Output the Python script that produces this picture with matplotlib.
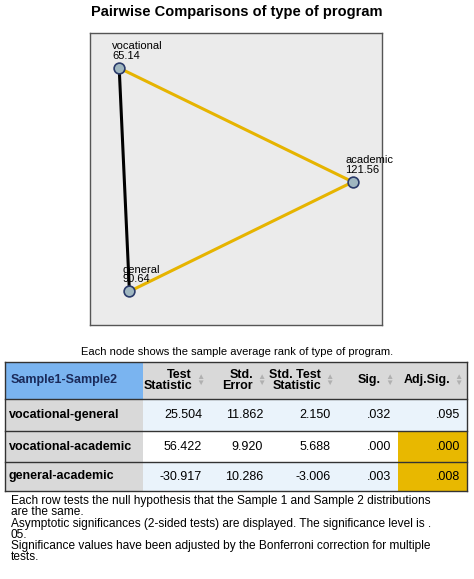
import matplotlib.pyplot as plt
from matplotlib.patches import Rectangle

# node data
nodes = ["vocational", "academic", "general"]
mean_ranks = [65.14, 121.56, 90.64]
node_x = [0.10, 0.90, 0.135]   # layout position inside the graph box
node_y = [0.88, 0.49, 0.115]
# edges: (from, to, significant)
edges = [("vocational", "general", False), ("vocational", "academic", True), ("general", "academic", True)]

# table data
col_labels = ["Sample1-Sample2", "Test\nStatistic", "Std.\nError", "Std. Test\nStatistic", "Sig.", "Adj.Sig."]
row_labels = ["vocational-general", "vocational-academic", "general-academic"]
test_stat = ["25.504", "56.422", "-30.917"]
std_err = ["11.862", "9.920", "10.286"]
std_test = ["2.150", "5.688", "-3.006"]
sig = [".032", ".000", ".003"]
adj_sig = [".095", ".000", ".008"]
adj_sig_highlight = [False, True, True]

W, H = 474, 579
fig = plt.figure(figsize=(W / 100, H / 100), dpi=100)
plt.rcParams['font.family'] = ['Liberation Sans', 'DejaVu Sans']

ax = fig.add_axes([0, 0, 1, 1])
ax.set_xlim(0, W)
ax.set_ylim(H, 0)
ax.axis('off')

ax.text(237, 12, "Pairwise Comparisons of type of program", ha='center', va='center',
        fontsize=10.5, fontweight='bold')

# graph box
gx0, gy0, gw, gh = 90, 33, 292, 292
gax = fig.add_axes([gx0 / W, 1 - (gy0 + gh) / H, gw / W, gh / H])
gax.set_facecolor('#ebebeb')
gax.set_xlim(0, 1)
gax.set_ylim(0, 1)
gax.set_xticks([])
gax.set_yticks([])
for s in gax.spines.values():
    s.set_color('#555555')
    s.set_linewidth(1)

pos = {n: (x, y) for n, x, y in zip(nodes, node_x, node_y)}
for a, b, sig_edge in edges:
    (x1, y1), (x2, y2) = pos[a], pos[b]
    gax.plot([x1, x2], [y1, y2], color='#e6b400' if sig_edge else 'black', lw=2.2, zorder=2)
gax.scatter(node_x, node_y, s=60, facecolor='#9fb6c0', edgecolor='#2a3a6a', lw=1.2, zorder=3)
for n, x, y, r in zip(nodes, node_x, node_y, mean_ranks):
    gax.text(x - 0.025, y + 0.025, f"{n}\n{r:.2f}", fontsize=8, ha='left', va='bottom',
             linespacing=0.95, zorder=4)

ax.text(237, 352, "Each node shows the sample average rank of type of program.",
        ha='center', va='center', fontsize=8)

# table
col_edges = [5, 143, 209, 270, 338, 398, 467]
row_edges = [362, 399, 431, 462, 491]
ax.add_patch(Rectangle((col_edges[0], row_edges[0]), col_edges[1] - col_edges[0],
                       row_edges[1] - row_edges[0], facecolor='#7ab4f0', edgecolor='none'))
ax.add_patch(Rectangle((col_edges[1], row_edges[0]), col_edges[-1] - col_edges[1],
                       row_edges[1] - row_edges[0], facecolor='#d9d9d9', edgecolor='none'))
ax.text(11, (row_edges[0] + row_edges[1]) / 2, col_labels[0], fontsize=9, fontweight='bold',
        color='#1a2a5a', va='center')
for j in range(1, 6):
    ax.text(col_edges[j + 1] - 17, (row_edges[0] + row_edges[1]) / 2, col_labels[j],
            fontsize=9, fontweight='bold', ha='right', va='center', linespacing=0.9)
    ax.text(col_edges[j + 1] - 9, (row_edges[0] + row_edges[1]) / 2, "\u25b2\n\u25bc",
            fontsize=6, color='#b0b0b0', ha='center', va='center', linespacing=0.75)

cols = [test_stat, std_err, std_test, sig, adj_sig]
for i, lab in enumerate(row_labels):
    y0, y1 = row_edges[i + 1], row_edges[i + 2]
    ym = (y0 + y1) / 2
    ax.add_patch(Rectangle((col_edges[0], y0), col_edges[1] - col_edges[0], y1 - y0,
                           facecolor='#d9d9d9', edgecolor='none'))
    bg = '#eaf3fb' if i % 2 == 0 else 'white'
    ax.add_patch(Rectangle((col_edges[1], y0), col_edges[-1] - col_edges[1], y1 - y0,
                           facecolor=bg, edgecolor='none'))
    if adj_sig_highlight[i]:
        ax.add_patch(Rectangle((col_edges[5], y0), col_edges[6] - col_edges[5], y1 - y0,
                               facecolor='#e8b800', edgecolor='none'))
    ax.text(9, ym, lab, fontsize=9, fontweight='bold', va='center')
    for j, c in enumerate(cols):
        ax.text(col_edges[j + 2] - 7, ym, c[i], fontsize=9, ha='right', va='center')
for y in row_edges:
    ax.plot([col_edges[0], col_edges[-1]], [y, y], color='#333333', lw=1)
ax.plot([col_edges[0]] * 2, [row_edges[0], row_edges[-1]], color='#333333', lw=1)
ax.plot([col_edges[-1]] * 2, [row_edges[0], row_edges[-1]], color='#333333', lw=1)

notes = ("Each row tests the null hypothesis that the Sample 1 and Sample 2 distributions\n"
         "are the same.\n"
         "Asymptotic significances (2-sided tests) are displayed. The significance level is .\n"
         "05.\n"
         "Significance values have been adjusted by the Bonferroni correction for multiple\n"
         "tests.")
ax.text(11, 495, notes, fontsize=8.6, va='top', ha='left', linespacing=0.92)

fig.savefig("out.png", dpi=100)
